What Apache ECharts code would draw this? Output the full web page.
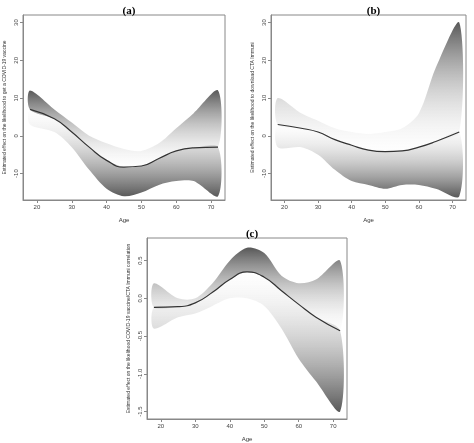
<!DOCTYPE html><html><head><meta charset="utf-8">
<script src="https://cdn.jsdelivr.net/npm/echarts@6/dist/echarts.min.js"></script>
<style>html,body{margin:0;background:#fff}#c{width:474px;height:443px}</style></head><body><div id="c"></div>
<script>
const ages=[18,25,30,35,40,45,50,55,60,65,72];
const aLine=[7,4.5,1,-3,-6.5,-8.3,-8,-6,-4,-3.2,-3];
const aUpper=[12,7,3.5,0,-2,-3.5,-4,-2,2,6,12];
const aLower=[3,1,-3,-9,-14,-16,-15,-13,-12,-12,-16];
const bLine=[3,2,1,-1,-2.5,-3.8,-4.2,-4,-3,-1.5,1];
const bUpper=[10,6,4,2,1,0.5,1,2,6,18,30];
const bLower=[-3,-3,-5,-9,-12,-13,-14,-13,-13,-14,-16];
const cLine=[-0.12,-0.11,-0.06,0.08,0.25,0.35,0.28,0.1,-0.08,-0.25,-0.43];
const cUpper=[0.2,0.0,0.0,0.2,0.5,0.67,0.6,0.3,0.2,0.25,0.5];
const cLower=[-0.4,-0.25,-0.2,-0.1,0.0,0.0,-0.1,-0.4,-0.8,-1.1,-1.5];
const titles=['(a)','(b)','(c)'];
const yNames=['Estimated effect on the likelihood to get a COVID-19 vaccine','Estimated effect on the likelihood to download CTA Immuni','Estimated effect on the likelihood COVID-19 vaccine/CTA Immuni correlation'];
const panels=[[aLine,aUpper,aLower,-17,32],[bLine,bUpper,bLower,-17,32],[cLine,cUpper,cLower,-1.6,0.8]];
const grids=[{left:23,top:15,width:202,height:185},{left:271,top:15,width:195,height:185},{left:147,top:238,width:200,height:182}];
const ax='#888';
const chart=echarts.init(document.getElementById('c'));
const xAxis=[],yAxis=[],series=[],title=[];
function band(i,edge,line,toward){
 return {type:'custom',xAxisIndex:i,yAxisIndex:i,silent:true,z:1,data:[0],
  renderItem:(params,api)=>{
   const a=ages.map((x,k)=>api.coord([x,edge[k]]));
   const b=ages.map((x,k)=>api.coord([x,line[k]])).reverse();
   const dark='rgba(70,70,70,0.9)',light='rgba(235,235,235,0.05)';
   const stops=toward==='down'?[{offset:0,color:dark},{offset:1,color:light}]:[{offset:0,color:light},{offset:1,color:dark}];
   return {type:'polygon',shape:{points:a.concat(b),smooth:0.3},style:{fill:new echarts.graphic.LinearGradient(0,0,0,1,stops)}};
  }};
}
panels.forEach((p,i)=>{
 const [line,up,lo,mn,mx]=p;
 const yt=i<2?[-10,0,10,20,30]:[-1.5,-1,-0.5,0,0.5];
 xAxis.push({gridIndex:i,type:'value',min:16,max:74,name:'Age',nameLocation:'middle',nameGap:17,nameTextStyle:{fontSize:6,color:'#333'},
  axisLine:{show:true,onZero:false,lineStyle:{color:ax}},axisTick:{show:true,length:3,lineStyle:{color:ax},customValues:[20,30,40,50,60,70]},splitLine:{show:false},
  axisLabel:{fontSize:6,color:'#444',margin:4,customValues:[20,30,40,50,60,70]}});
 yAxis.push({gridIndex:i,type:'value',min:mn,max:mx,name:yNames[i],nameLocation:'middle',nameGap:16,nameTextStyle:{fontSize:5,color:'#333'},
  axisLine:{show:true,onZero:false,lineStyle:{color:ax}},axisTick:{show:true,length:3,lineStyle:{color:ax},customValues:yt},splitLine:{show:false},
  axisLabel:{fontSize:6,color:'#444',rotate:90,margin:4,customValues:yt,formatter:v=>i<2?String(v):v.toFixed(1)}});
 series.push(band(i,lo,line,'up'));
 series.push(band(i,up,line,'down'));
 series.push({type:'line',xAxisIndex:i,yAxisIndex:i,z:3,smooth:true,symbol:'none',lineStyle:{width:1.2,color:'#333'},data:ages.map((a,k)=>[a,line[k]])});
 const g=grids[i];
 title.push({text:titles[i],left:g.left+g.width/2,textAlign:'center',top:g.top-14,textStyle:{fontSize:11,fontWeight:'bold',fontFamily:'Liberation Serif',color:'#000'}});
});
chart.setOption({animation:false,title,grid:grids.map(g=>Object.assign({show:true,borderColor:ax,borderWidth:1},g)),xAxis,yAxis,series});
</script></body></html>
